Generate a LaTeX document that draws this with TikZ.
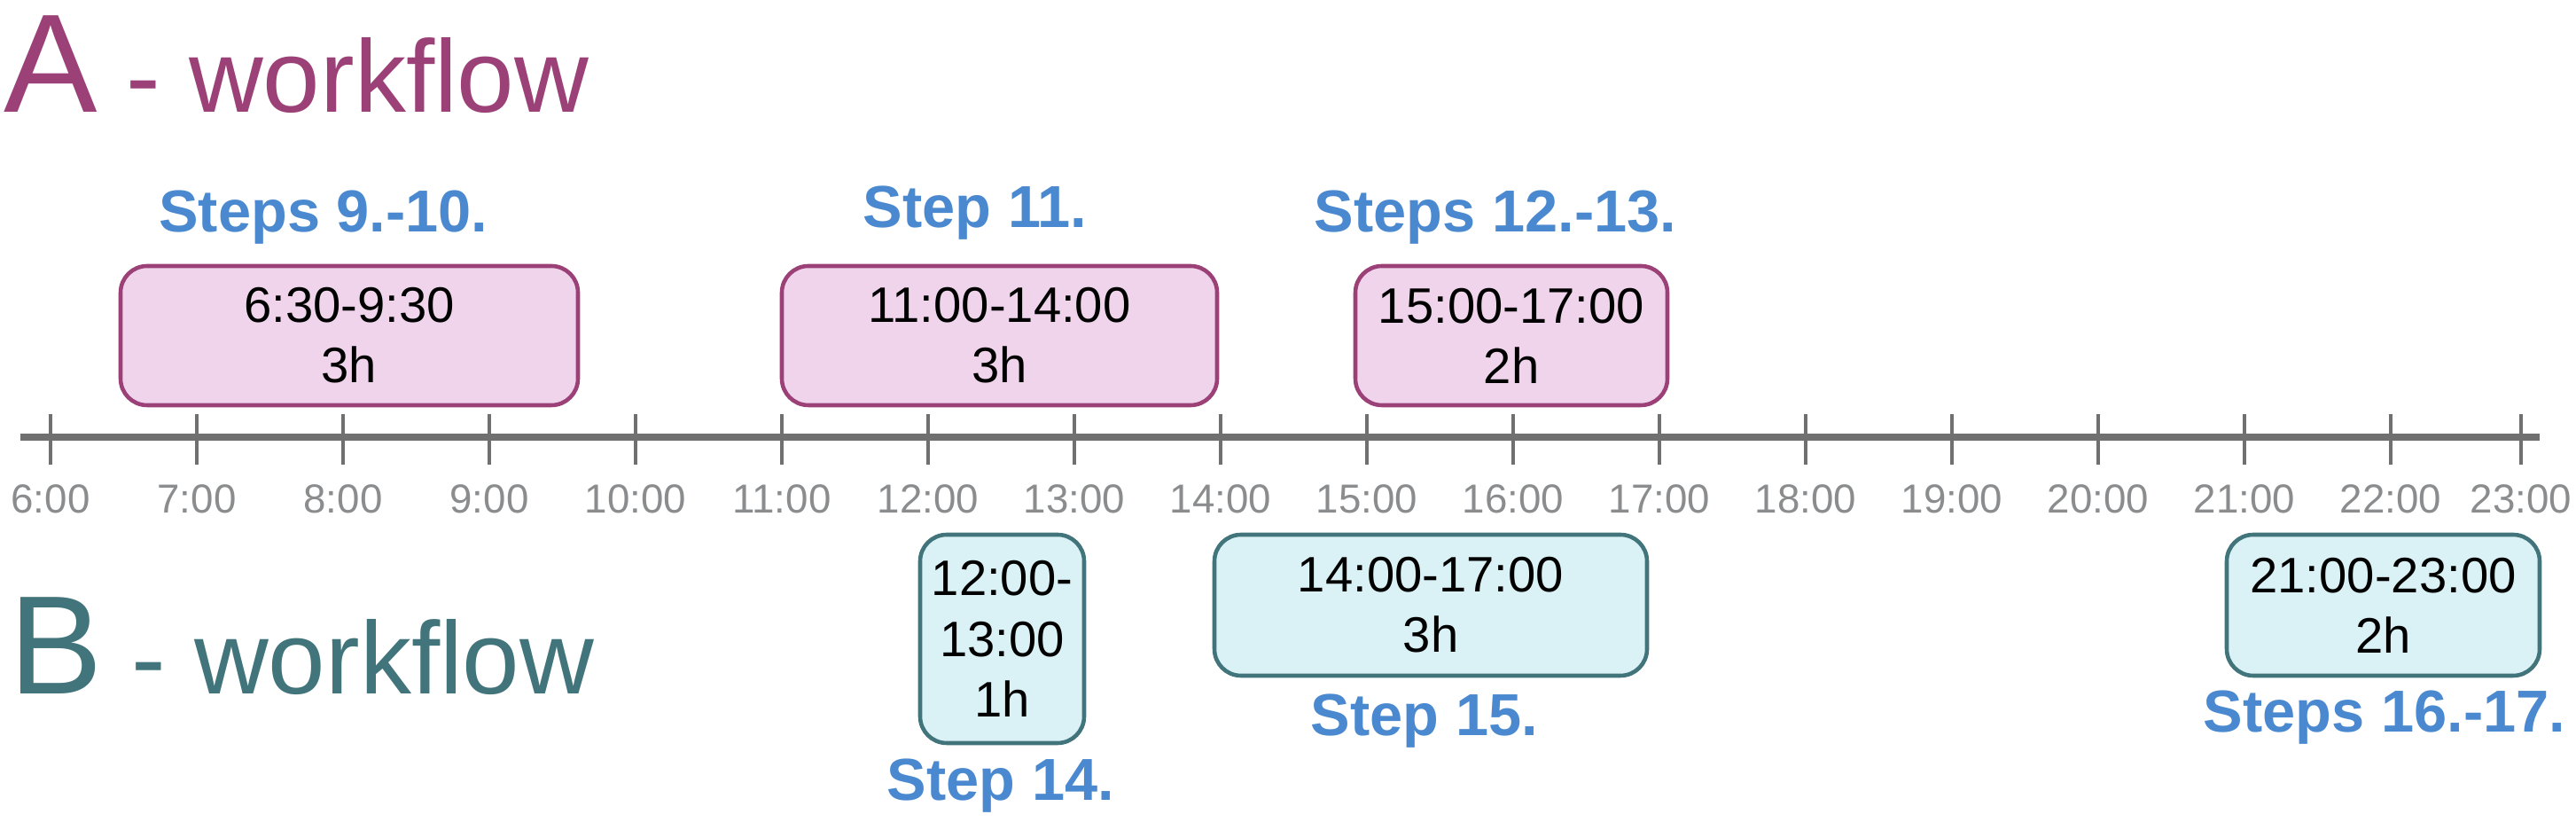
\documentclass[tikz,border=0pt]{standalone}
\usepackage{fontspec}
\setmainfont{Liberation Sans}
\usepackage{tikz}
\usetikzlibrary{positioning}
\definecolor{awine}{HTML}{9B4178}
\definecolor{apink}{HTML}{EFD4EC}
\definecolor{bteal}{HTML}{41747B}
\definecolor{bcyan}{HTML}{DAF2F6}
\definecolor{stepblue}{HTML}{4A89CF}
\definecolor{axisgray}{HTML}{707070}
\definecolor{hourgray}{HTML}{8A8C8E}
\tikzstyle{axis} = [draw=axisgray, line width=2.3pt]
\tikzstyle{tick} = [draw=axisgray, line width=0.9pt]
\tikzstyle{hour} = [text=hourgray, inner sep=0, font=\fontsize{13}{13}\selectfont]
\tikzstyle{slot} = [line width=1.3pt, rounded corners=0.3cm, align=center, inner sep=0, font=\fontsize{16}{19.4}\selectfont]
\tikzstyle{aslot} = [slot, draw=awine, fill=apink]
\tikzstyle{bslot} = [slot, draw=bteal, fill=bcyan]
\tikzstyle{steplabel} = [text=stepblue, anchor=base, inner sep=0, font=\bfseries\fontsize{19}{19}\selectfont]
\tikzstyle{wftitle} = [anchor=base west, inner sep=0, font=\fontsize{33}{33}\selectfont]

\begin{document}
\begin{tikzpicture}
	\useasboundingbox (0,0) rectangle (29.06,9.27);
	% titles
	\node [wftitle, text=awine] (atitle) at (0.04,8.00) {{\fontsize{45}{45}\selectfont A} - workflow};
	\node [wftitle, text=bteal] (btitle) at (0.10,1.44) {{\fontsize{45}{45}\selectfont B} - workflow};
	% time axis
	\coordinate (axstart) at (0.23,4.34);
	\coordinate (axend) at (28.65,4.34);
	\draw [axis] (axstart) -- (axend);
	\draw [tick] (0.57,4.03) -- (0.57,4.60);   \node [hour] (h6) at (0.57,3.64) {6:00};
	\draw [tick] (2.22,4.03) -- (2.22,4.60);   \node [hour] (h7) at (2.22,3.64) {7:00};
	\draw [tick] (3.87,4.03) -- (3.87,4.60);   \node [hour] (h8) at (3.87,3.64) {8:00};
	\draw [tick] (5.52,4.03) -- (5.52,4.60);   \node [hour] (h9) at (5.52,3.64) {9:00};
	\draw [tick] (7.17,4.03) -- (7.17,4.60);   \node [hour] (h10) at (7.17,3.64) {10:00};
	\draw [tick] (8.82,4.03) -- (8.82,4.60);   \node [hour] (h11) at (8.82,3.64) {11:00};
	\draw [tick] (10.47,4.03) -- (10.47,4.60); \node [hour] (h12) at (10.47,3.64) {12:00};
	\draw [tick] (12.12,4.03) -- (12.12,4.60); \node [hour] (h13) at (12.12,3.64) {13:00};
	\draw [tick] (13.77,4.03) -- (13.77,4.60); \node [hour] (h14) at (13.77,3.64) {14:00};
	\draw [tick] (15.42,4.03) -- (15.42,4.60); \node [hour] (h15) at (15.42,3.64) {15:00};
	\draw [tick] (17.07,4.03) -- (17.07,4.60); \node [hour] (h16) at (17.07,3.64) {16:00};
	\draw [tick] (18.72,4.03) -- (18.72,4.60); \node [hour] (h17) at (18.72,3.64) {17:00};
	\draw [tick] (20.37,4.03) -- (20.37,4.60); \node [hour] (h18) at (20.37,3.64) {18:00};
	\draw [tick] (22.02,4.03) -- (22.02,4.60); \node [hour] (h19) at (22.02,3.64) {19:00};
	\draw [tick] (23.67,4.03) -- (23.67,4.60); \node [hour] (h20) at (23.67,3.64) {20:00};
	\draw [tick] (25.32,4.03) -- (25.32,4.60); \node [hour] (h21) at (25.32,3.64) {21:00};
	\draw [tick] (26.97,4.03) -- (26.97,4.60); \node [hour] (h22) at (26.97,3.64) {22:00};
	\draw [tick] (28.44,4.03) -- (28.44,4.60); \node [hour] (h23) at (28.44,3.64) {23:00};
	% A - workflow slots
	\node [aslot, minimum width=5.16cm, minimum height=1.57cm] (a1) at (3.94,5.485) {6:30-9:30\\3h};
	\node [aslot, minimum width=4.91cm, minimum height=1.57cm] (a2) at (11.275,5.485) {11:00-14:00\\3h};
	\node [aslot, minimum width=3.52cm, minimum height=1.57cm] (a3) at (17.05,5.485) {15:00-17:00\\2h};
	\node [steplabel] (s1) at (3.65,6.65) {Steps 9.-10.};
	\node [steplabel] (s2) at (11.0,6.70) {Step 11.};
	\node [steplabel] (s3) at (16.87,6.65) {Steps 12.-13.};
	% B - workflow slots
	\node [bslot, minimum width=1.85cm, minimum height=2.35cm] (b1) at (11.305,2.065) {12:00-\\13:00\\1h};
	\node [bslot, minimum width=4.88cm, minimum height=1.59cm] (b2) at (16.14,2.445) {14:00-17:00\\3h};
	\node [bslot, minimum width=3.53cm, minimum height=1.59cm] (b3) at (26.885,2.445) {21:00-23:00\\2h};
	\node [steplabel] (s4) at (11.29,0.24) {Step 14.};
	\node [steplabel] (s5) at (16.07,0.97) {Step 15.};
	\node [steplabel] (s6) at (26.90,1.01) {Steps 16.-17.};
\end{tikzpicture}
\end{document}
